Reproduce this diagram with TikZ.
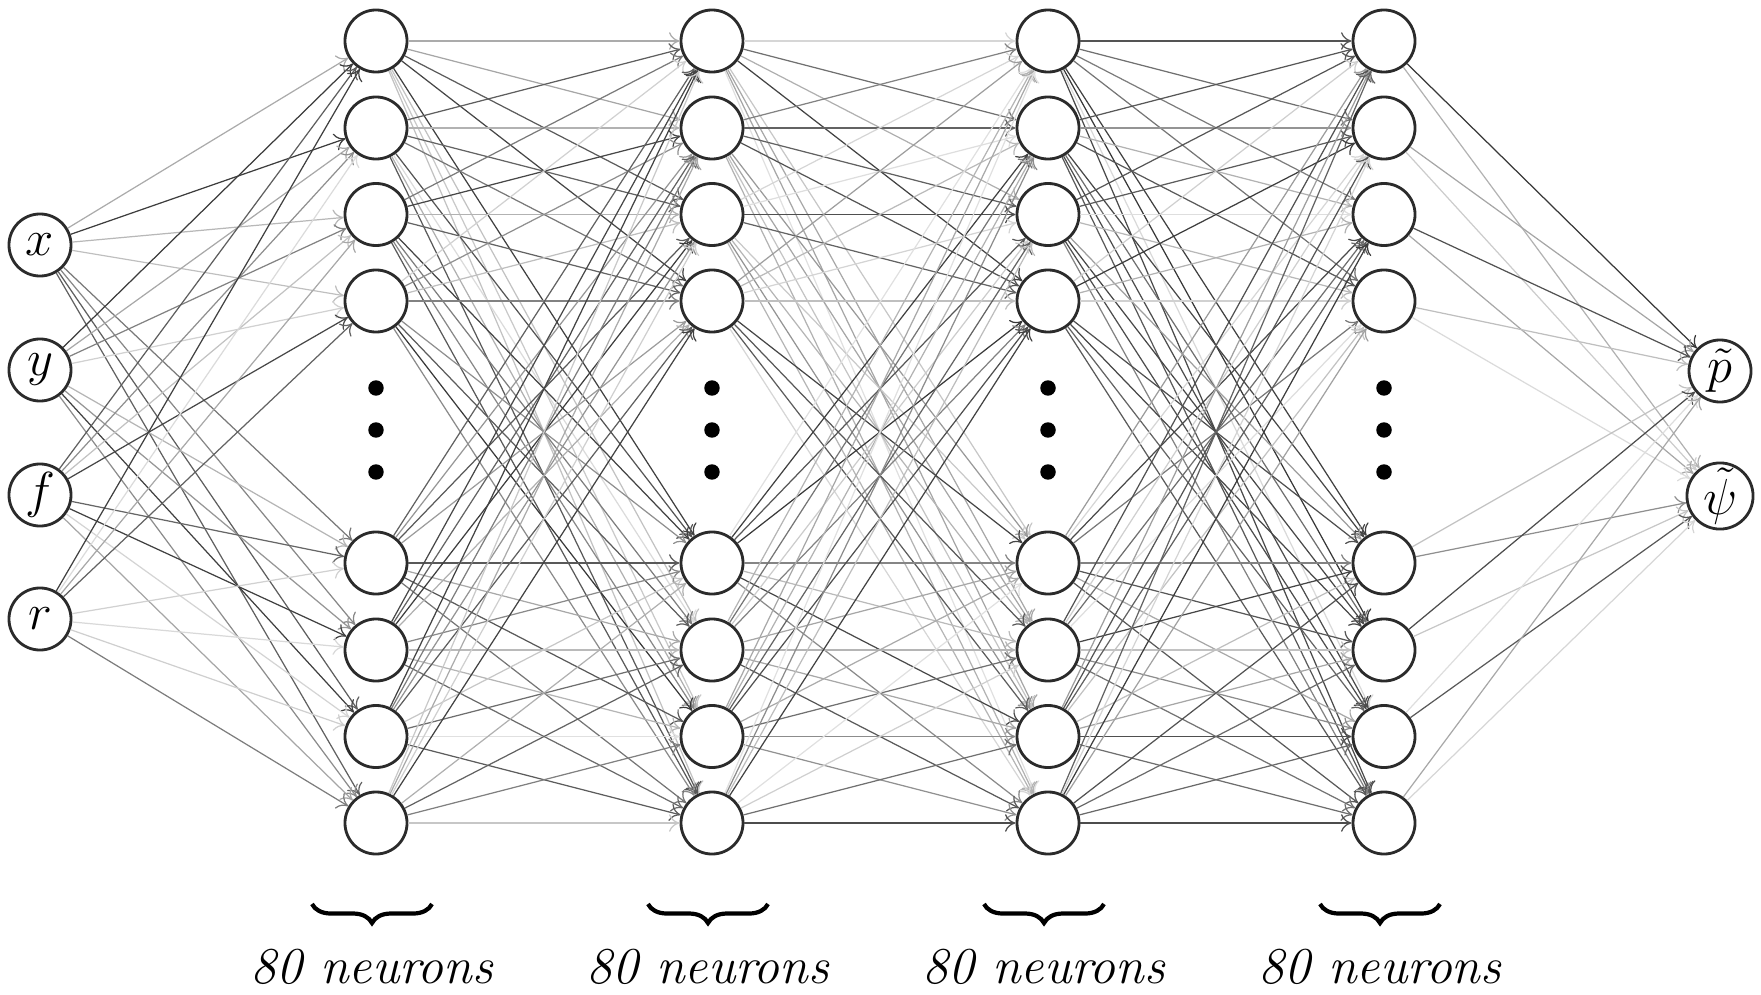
\documentclass[tikz,border=0pt]{standalone}
\usepackage{amsmath, amssymb}
\usepackage{tikz}
\usetikzlibrary{arrows.meta, positioning, calc, decorations.pathreplacing}
\usepackage{xcolor}
\definecolor{neurongray}{HTML}{2B2B2B}

\tikzset{
  neuron/.style={circle, draw=neurongray, line width=0.8pt, fill=white,
                 minimum size=0.62cm, inner sep=0pt},
  synapse/.style={line width=0.35pt, -{To[length=3pt, width=5pt]}},
  layerbrace/.style={decorate, line width=1.2pt,
                     decoration={brace, mirror, amplitude=0.19cm}}
}

\begin{document}
\begin{tikzpicture}[x=0.01cm, y=-0.01cm, font=\fontsize{14.7}{17}\selectfont]
  \useasboundingbox (0,0) rectangle (1761,994);
  \pgfmathsetseed{11}

  % inputs and outputs
  \foreach \n/\lab/\y in {1/x/245, 2/y/370, 3/f/495, 4/r/619}
    \node[neuron] (in\n) at (40,\y) {$\lab$};
  \node[neuron] (out1) at (1720,371) {$\tilde{p}$};
  \node[neuron] (out2) at (1720,496) {$\tilde{\psi}$};

  % hidden layers
  \foreach \l/\x in {1/376, 2/712, 3/1048, 4/1384} {
    \foreach \n/\y in {1/41, 2/128, 3/214.5, 4/301, 5/563, 6/650, 7/736.5, 8/823}
      \node[neuron] (h\l-\n) at (\x,\y) {};
    \foreach \y in {388, 430, 472}
      \fill (\x,\y) circle (2.2pt);
    \draw[layerbrace] ($(h\l-8)+(-64,81)$) -- ($(h\l-8)+(56,81)$);
    \node[anchor=base] (lab\l) at (\x-4,983) {\textit{80 neurons}};
  }

  % weights
  \foreach \i in {1,...,4}
    \foreach \j in {1,...,8} {
      \pgfmathrandominteger{\g}{12}{78}
      \draw[synapse, draw=black!\g] (in\i) -- (h1-\j);
    }
  \foreach \l [evaluate=\l as \m using int(\l+1)] in {1,2,3}
    \foreach \i in {1,...,8}
      \foreach \j in {1,...,8} {
        \pgfmathrandominteger{\g}{12}{78}
        \draw[synapse, draw=black!\g] (h\l-\i) -- (h\m-\j);
      }
  \foreach \i in {1,...,8}
    \foreach \k in {1,2} {
      \pgfmathrandominteger{\g}{12}{78}
      \draw[synapse, draw=black!\g] (h4-\i) -- (out\k);
    }
\end{tikzpicture}
\end{document}
